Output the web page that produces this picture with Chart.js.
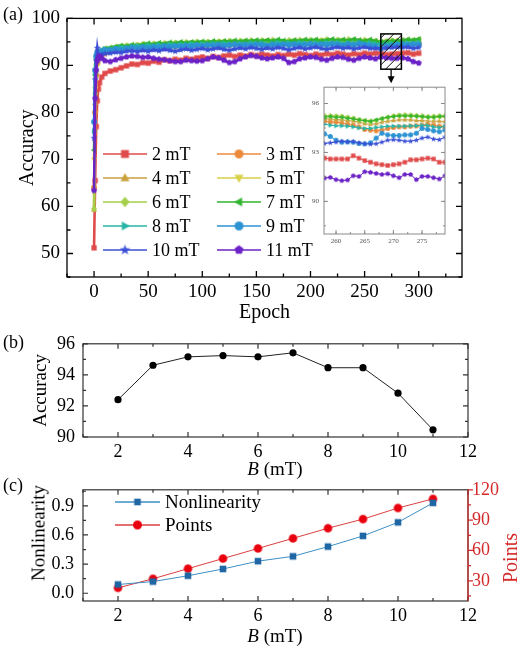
<!DOCTYPE html>
<html>
<head>
<meta charset="utf-8">
<script src="https://cdn.jsdelivr.net/npm/chart.js@4.4.1/dist/chart.umd.min.js"></script>
<style>
body { margin: 0; background: #fff; font-family: 'Liberation Serif', 'Times New Roman', serif; }
#wrap { position: relative; width: 520px; height: 649px; overflow: hidden; }
canvas { position: absolute; }
.t { position: absolute; font-size: 19px; line-height: 1; white-space: nowrap; color: #000; }
.ht { transform: translate(-50%, -50%); }
.vt { transform: translate(-50%, -50%) rotate(-90deg); }
</style>
</head>
<body>
<div id="wrap">
  <canvas id="chartA" width="520" height="325" style="left:0;top:0"></canvas>
  <canvas id="chartInset" width="150" height="175" style="left:300px;top:78px"></canvas>
  <canvas id="chartB" width="520" height="160" style="left:0;top:325px"></canvas>
  <canvas id="chartC" width="520" height="179" style="left:0;top:470px"></canvas>
  <div class="t" style="left:3px;top:5px;font-size:18px">(a)</div>
  <div class="t" style="left:3px;top:333px;font-size:18px">(b)</div>
  <div class="t" style="left:3px;top:476px;font-size:18px">(c)</div>
  <div class="t ht" style="left:275px;top:468px"><i>B</i> (mT)</div>
  <div class="t ht" style="left:275px;top:635px"><i>B</i> (mT)</div>
  <div class="t vt" style="left:38px;top:533px">Nonlinearity</div>
  <div class="t vt" style="left:510px;top:558px;color:#d42a2a;font-size:20px">Points</div>
</div>
<script>
// ---- data (a): accuracy vs epoch
var seriesLabels = ['2 mT', '3 mT', '4 mT', '5 mT', '6 mT', '7 mT', '8 mT', '9 mT', '10 mT', '11 mT'];

var epochs = [0, 1, 2, 3, 4, 5, 7, 10,
  15, 20, 25, 30, 35, 40, 45, 50, 55, 60,
  65, 70, 75, 80, 85, 90, 95, 100, 105, 110,
  115, 120, 125, 130, 135, 140, 145, 150, 155, 160,
  165, 170, 175, 180, 185, 190, 195, 200, 205, 210,
  215, 220, 225, 230, 235, 240, 245, 250, 255, 260,
  265, 270, 275, 280, 285, 290, 295, 300];

var acc2mT = [51.2, 65.5, 77.0, 82.5, 85.0, 86.3, 87.5, 88.3,
  88.8, 89.1, 89.5, 89.9, 90.3, 90.2, 90.6, 90.5, 90.9, 90.7,
  91.2, 91.0, 91.3, 91.1, 91.5, 91.3, 91.6, 91.8, 91.5, 91.9,
  91.7, 92.0, 92.2, 91.9, 92.2, 92.0, 92.3, 92.1, 92.4, 92.2,
  92.0, 92.3, 92.1, 92.4, 92.2, 92.5, 92.3, 92.1, 92.4, 92.2,
  92.5, 92.3, 92.6, 92.4, 92.2, 92.5, 92.3, 92.6, 92.4, 92.6,
  92.6, 92.3, 92.4, 92.5, 92.6, 92.7, 92.4, 92.6];
var acc3mT = [64.0, 80.0, 88.0, 90.5, 91.5, 92.0, 92.3, 92.6,
  93.0, 93.3, 93.5, 93.4, 93.7, 93.9, 93.7, 94.0, 93.8, 94.1,
  94.0, 94.2, 94.0, 94.3, 94.1, 94.3, 94.2, 94.4, 94.2, 94.5,
  94.3, 94.5, 94.3, 94.6, 94.4, 94.6, 94.4, 94.7, 94.5, 94.3,
  94.6, 94.4, 94.7, 94.5, 94.7, 94.4, 94.6, 94.8, 94.5, 94.7,
  94.5, 94.8, 94.6, 94.4, 94.7, 94.5, 94.7, 94.5, 94.7, 94.8,
  94.6, 94.4, 94.6, 94.6, 94.8, 94.5, 94.7, 94.6];
var acc4mT = [59.3, 82.0, 89.0, 91.0, 91.8, 92.3, 92.6, 93.0,
  93.4, 93.7, 93.9, 94.1, 93.9, 94.2, 94.4, 94.2, 94.5, 94.3,
  94.6, 94.4, 94.7, 94.5, 94.8, 94.6, 94.8, 94.7, 94.9, 94.7,
  95.0, 94.8, 95.0, 94.8, 95.1, 94.9, 95.1, 94.9, 95.2, 95.0,
  94.8, 95.1, 94.9, 95.2, 95.0, 95.2, 94.9, 95.1, 95.3, 95.0,
  95.2, 95.0, 95.3, 95.1, 94.9, 95.2, 95.0, 95.2, 95.0, 95.0,
  94.9, 94.9, 95.0, 94.9, 95.1, 95.0, 95.1, 95.0];
var acc5mT = [70.0, 85.0, 90.0, 91.5, 92.0, 92.5, 92.8, 93.2,
  93.6, 93.8, 94.1, 93.9, 94.2, 94.4, 94.2, 94.5, 94.3, 94.6,
  94.4, 94.7, 94.5, 94.8, 94.6, 94.9, 94.7, 94.9, 94.8, 95.0,
  94.8, 95.1, 94.9, 95.1, 95.0, 95.2, 95.0, 95.2, 95.0, 95.3,
  95.1, 94.9, 95.2, 95.0, 95.3, 95.1, 95.3, 95.0, 95.2, 95.4,
  95.1, 95.3, 95.1, 95.4, 95.2, 95.0, 95.3, 95.1, 95.3, 95.2,
  95.0, 95.1, 95.2, 95.2, 95.1, 95.3, 95.2, 95.4];
var acc6mT = [59.5, 84.0, 90.0, 91.8, 92.2, 92.6, 93.0, 93.4,
  93.5, 93.8, 94.0, 94.2, 94.0, 94.3, 94.5, 94.3, 94.6, 94.4,
  94.7, 94.5, 94.8, 94.6, 94.9, 94.7, 95.0, 94.8, 95.0, 94.9,
  95.1, 94.9, 95.2, 95.0, 95.2, 95.1, 95.3, 95.1, 95.3, 95.1,
  95.4, 95.2, 95.0, 95.3, 95.1, 95.4, 95.2, 95.4, 95.1, 95.3,
  95.5, 95.2, 95.4, 95.2, 95.5, 95.3, 95.1, 95.4, 95.2, 95.2,
  94.9, 95.1, 95.3, 95.2, 95.3, 95.4, 95.3, 95.5];
var acc7mT = [72.0, 88.0, 91.5, 92.5, 92.8, 93.0, 93.3, 93.6,
  93.8, 94.0, 94.2, 94.1, 94.4, 94.2, 94.5, 94.7, 94.5, 94.8,
  94.6, 94.9, 94.7, 95.0, 94.8, 95.0, 94.9, 95.1, 94.9, 95.2,
  95.0, 95.2, 95.1, 95.3, 95.1, 95.3, 95.2, 95.4, 95.2, 95.4,
  95.2, 95.5, 95.3, 95.1, 95.4, 95.2, 95.5, 95.3, 95.5, 95.2,
  95.4, 95.6, 95.3, 95.5, 95.3, 95.6, 95.4, 95.2, 95.5, 95.2,
  95.0, 95.1, 95.2, 95.2, 95.3, 95.5, 95.4, 95.6];
var acc8mT = [76.0, 88.5, 91.5, 92.5, 92.8, 93.0, 93.2, 93.5,
  93.5, 93.7, 93.9, 93.8, 94.0, 94.2, 94.0, 94.3, 94.1, 94.4,
  94.2, 94.5, 94.3, 94.5, 94.4, 94.6, 94.4, 94.6, 94.5, 94.7,
  94.5, 94.7, 94.6, 94.4, 94.7, 94.5, 94.8, 94.6, 94.8, 94.5,
  94.7, 94.9, 94.6, 94.8, 94.6, 94.9, 94.7, 94.5, 94.8, 94.6,
  94.9, 94.7, 94.9, 94.6, 94.8, 94.7, 94.9, 94.6, 94.8, 94.6,
  94.5, 94.6, 94.6, 94.6, 94.7, 94.8, 94.7, 94.9];
var acc9mT = [78.0, 89.0, 92.0, 92.8, 92.5, 92.8, 93.0, 93.3,
  93.2, 93.5, 93.3, 93.6, 93.8, 93.6, 93.9, 93.7, 94.0, 93.8,
  94.1, 93.9, 94.1, 94.0, 94.2, 94.0, 94.3, 94.1, 94.3, 94.2,
  94.4, 94.1, 94.3, 94.5, 94.2, 94.4, 94.2, 94.5, 94.3, 94.1,
  94.4, 94.2, 94.5, 94.3, 94.5, 94.2, 94.4, 94.6, 94.3, 94.5,
  94.3, 94.6, 94.4, 94.2, 94.5, 94.3, 94.6, 94.4, 94.2, 94.0,
  93.6, 94.0, 94.1, 94.4, 94.5, 94.3, 94.5, 94.4];
var acc10mT = [74.5, 87.0, 91.0, 93.7, 92.0, 91.8, 92.3, 92.5,
  92.6, 92.8, 92.7, 93.0, 93.1, 92.9, 93.2, 93.0, 93.3, 93.1,
  93.4, 93.2, 93.0, 93.3, 93.5, 93.2, 93.4, 93.6, 93.3, 93.5,
  93.7, 93.4, 93.2, 93.5, 93.7, 93.5, 93.8, 93.6, 93.4, 93.7,
  93.5, 93.8, 93.6, 93.3, 93.6, 93.8, 93.5, 93.7, 93.9, 93.6,
  93.4, 93.7, 93.9, 93.6, 93.8, 93.5, 93.7, 93.9, 93.6, 93.6,
  93.6, 93.7, 93.8, 93.9, 93.8, 93.9, 93.6, 93.8];
var acc11mT = [63.4, 83.0, 89.0, 91.0, 91.6, 92.0, 91.5, 91.0,
  90.8, 91.2, 91.5, 91.8, 92.0, 91.9, 91.7, 91.8, 91.5, 91.3,
  91.2, 91.0, 90.8, 90.8, 91.1, 91.0, 90.9, 91.0, 91.4, 91.8,
  91.6, 91.1, 90.6, 90.8, 91.4, 91.8, 92.1, 91.9, 91.6, 91.4,
  91.6, 91.8, 91.5, 90.6, 90.8, 91.4, 91.6, 91.8, 91.7, 91.3,
  91.1, 91.5, 91.8, 91.7, 91.3, 91.1, 91.5, 91.8, 91.6, 91.4,
  91.8, 91.6, 91.5, 91.5, 91.6, 91.4, 90.8, 90.5];

// inset: epochs 258-279
var insetEpochs = [258, 259, 260, 261, 262, 263, 264, 265, 266, 267, 268,
  269, 270, 271, 272, 273, 274, 275, 276, 277, 278, 279];
var zoom2mT = [92.65, 92.6, 92.6, 92.6, 92.6, 92.8, 92.65, 92.5, 92.4, 92.3, 92.25,
  92.2, 92.25, 92.3, 92.4, 92.55, 92.55, 92.6, 92.65, 92.6, 92.4, 92.4];
var zoom3mT = [94.92, 94.86, 94.86, 94.8, 94.73, 94.67, 94.57, 94.41, 94.37, 94.33, 94.37,
  94.47, 94.53, 94.57, 94.57, 94.61, 94.63, 94.67, 94.71, 94.67, 94.61, 94.57];
var zoom4mT = [95.06, 95.06, 95.02, 95.0, 94.96, 94.92, 94.86, 94.76, 94.73, 94.76, 94.86,
  94.92, 94.96, 95.0, 95.0, 95.0, 94.96, 94.96, 94.92, 94.92, 94.92, 94.9];
var zoom5mT = [95.2, 95.2, 95.2, 95.16, 95.12, 95.06, 95.0, 94.96, 94.92, 94.96, 95.06,
  95.12, 95.2, 95.24, 95.24, 95.22, 95.2, 95.16, 95.16, 95.12, 95.16, 95.16];
var zoom6mT = [95.25, 95.25, 95.24, 95.22, 95.16, 95.1, 95.0, 94.92, 94.86, 94.96, 95.06,
  95.16, 95.24, 95.29, 95.31, 95.29, 95.27, 95.24, 95.2, 95.22, 95.25, 95.25];
var zoom7mT = [95.16, 95.2, 95.16, 95.16, 95.1, 95.06, 95.0, 94.96, 94.92, 95.0, 95.08,
  95.16, 95.2, 95.24, 95.24, 95.24, 95.22, 95.2, 95.16, 95.16, 95.2, 95.22];
var zoom8mT = [94.73, 94.67, 94.63, 94.63, 94.61, 94.57, 94.51, 94.47, 94.47, 94.53, 94.57,
  94.61, 94.61, 94.61, 94.61, 94.63, 94.63, 94.67, 94.65, 94.57, 94.53, 94.61];
var zoom9mT = [94.14, 93.98, 93.75, 93.63, 93.65, 93.63, 93.55, 93.53, 93.59, 93.88, 94.18,
  94.08, 94.04, 94.04, 94.08, 94.08, 94.18, 94.47, 94.41, 94.33, 94.27, 94.37];
var zoom10mT = [93.55, 93.59, 93.63, 93.69, 93.65, 93.67, 93.59, 93.53, 93.51, 93.53, 93.63,
  93.75, 93.78, 93.75, 93.69, 93.69, 93.75, 93.88, 93.94, 93.82, 93.78, 93.94];
var zoom11mT = [91.43, 91.47, 91.33, 91.27, 91.31, 91.57, 91.53, 91.82, 91.78, 91.71, 91.65,
  91.69, 91.57, 91.45, 91.65, 91.65, 91.33, 91.53, 91.53, 91.45, 91.37, 91.57];

// (b) and (c)
var fieldB = [2, 3, 4, 5, 6, 7, 8, 9, 10, 11];
var bestAcc = [92.4, 94.62, 95.16, 95.24, 95.16, 95.42, 94.46, 94.46, 92.82, 90.46];
var nonlinearity = [0.09, 0.12, 0.18, 0.25, 0.33, 0.38, 0.48, 0.59, 0.73, 0.93];
var pointsCount = [23, 32, 42, 52, 62, 72, 82, 91, 102, 111];

// tick labels
var epochTicks = [0, 50, 100, 150, 200, 250, 300];
var accTicks = [50, 60, 70, 80, 90, 100];
var insetXTicks = [260, 265, 270, 275];
var insetYTicks = [90, 93, 96];
var fieldTicks = [2, 4, 6, 8, 10, 12];
var bAccTicks = [90, 92, 94, 96];
var nlTicks = [0, 0.3, 0.6, 0.9];
var ptTicks = [30, 60, 90, 120];

var mainSeries = [acc2mT, acc3mT, acc4mT, acc5mT, acc6mT, acc7mT, acc8mT, acc9mT, acc10mT, acc11mT];
var insetSeries = [zoom2mT, zoom3mT, zoom4mT, zoom5mT, zoom6mT, zoom7mT, zoom8mT, zoom9mT, zoom10mT, zoom11mT];

// ---- styles
var FONT = "'Liberation Serif', 'Times New Roman', serif";
var seriesColors = ['#e04a4a', '#ec8a3c', '#c9a23e', '#d9d148', '#a5cf4a', '#31b531', '#27b4a6', '#2d93d3', '#3b4fd6', '#6b22c7'];
var seriesShapes = ['square', 'circle', 'up', 'down', 'diamond', 'left', 'right', 'circle', 'star', 'pentagon'];
var zoomBox = { x0: 265, x1: 284, y0: 89.2, y1: 96.7, tip: 86.2 };

// small marker pictures used as pointStyle
function makeMarker(shape, color, size) {
  var c = document.createElement('canvas');
  c.width = c.height = Math.ceil(size + 4);
  var g = c.getContext('2d');
  var m = c.width / 2, r = size / 2;
  function poly(pts) {
    pts.forEach(function (p, k) {
      if (k) g.lineTo(m + p[0] * r, m + p[1] * r); else g.moveTo(m + p[0] * r, m + p[1] * r);
    });
    g.closePath();
  }
  g.fillStyle = color;
  g.beginPath();
  if (shape === 'circle') g.arc(m, m, r, 0, Math.PI * 2);
  else if (shape === 'square') g.rect(m - r * 0.88, m - r * 0.88, r * 1.76, r * 1.76);
  else if (shape === 'up') poly([[0, -1.1], [1, 0.7], [-1, 0.7]]);
  else if (shape === 'down') poly([[0, 1.1], [1, -0.7], [-1, -0.7]]);
  else if (shape === 'left') poly([[-1.1, 0], [0.7, -1], [0.7, 1]]);
  else if (shape === 'right') poly([[1.1, 0], [-0.7, -1], [-0.7, 1]]);
  else if (shape === 'diamond') poly([[0, -1.15], [1, 0], [0, 1.15], [-1, 0]]);
  else {
    var n = shape === 'star' ? 10 : 5, pts = [];
    for (var k = 0; k < n; k++) {
      var a = -Math.PI / 2 + k * 2 * Math.PI / n;
      var rr = shape === 'star' ? (k % 2 ? 0.5 : 1.25) : 1.05;
      pts.push([Math.cos(a) * rr, Math.sin(a) * rr]);
    }
    poly(pts);
  }
  g.fill();
  return c;
}

var mainMarkers = seriesShapes.map(function (s, i) { return makeMarker(s, seriesColors[i], 6); });
var insetMarkers = seriesShapes.map(function (s, i) { return makeMarker(s, seriesColors[i], 5); });
var keyMarkers = seriesShapes.map(function (s, i) { return makeMarker(s, seriesColors[i], 9); });
var cMarkers = [makeMarker('square', '#1f66a5', 7.5), makeMarker('circle', '#e8000e', 8.5)];
var cKeyMarkers = [makeMarker('square', '#1f66a5', 7.5), makeMarker('circle', '#e8000e', 9)];

// frame + inward ticks (Origin style)
function makeFrame(cfg) {
  return {
    id: 'frame',
    afterDraw: function (chart) {
      var ctx = chart.ctx, a = chart.chartArea;
      ctx.save();
      ctx.lineWidth = cfg.width;
      ctx.strokeStyle = cfg.color;
      ctx.strokeRect(a.left, a.top, a.right - a.left, a.bottom - a.top);
      cfg.axes.forEach(function (ax) {
        var s = chart.scales[ax.id];
        ctx.strokeStyle = ax.color || cfg.color;
        if (ax.spine) {
          ctx.beginPath(); ctx.moveTo(a.right, a.top); ctx.lineTo(a.right, a.bottom); ctx.stroke();
        }
        var list = s.ticks.map(function (t) { return [t.value, ax.major]; });
        if (ax.minor) {
          for (var k = Math.ceil(s.min / ax.minor - 1e-9); k * ax.minor <= s.max + 1e-9; k++) list.push([k * ax.minor, ax.minorLen]);
        }
        ctx.beginPath();
        list.forEach(function (it) {
          var p = s.getPixelForValue(it[0]), len = it[1];
          ax.sides.forEach(function (side) {
            if (side === 'bottom') { ctx.moveTo(p, a.bottom); ctx.lineTo(p, a.bottom - len); }
            if (side === 'top') { ctx.moveTo(p, a.top); ctx.lineTo(p, a.top + len); }
            if (side === 'left') { ctx.moveTo(a.left, p); ctx.lineTo(a.left + len, p); }
            if (side === 'right') { ctx.moveTo(a.right, p); ctx.lineTo(a.right - len, p); }
            if (side === 'rightOut') { ctx.moveTo(a.right, p); ctx.lineTo(a.right + len, p); }
          });
        });
        ctx.stroke();
      });
      ctx.restore();
    }
  };
}

// legend drawn inside the plot
function makeKey(markers, cfg) {
  return {
    id: 'key',
    afterDraw: function (chart) {
      var ctx = chart.ctx;
      ctx.save();
      ctx.font = cfg.font;
      ctx.textBaseline = 'middle';
      chart.data.datasets.forEach(function (ds, i) {
        var col = i % cfg.cols, row = Math.floor(i / cfg.cols);
        var x = cfg.x[col], y = cfg.y + row * cfg.dy;
        ctx.strokeStyle = ds.borderColor;
        ctx.lineWidth = cfg.lineWidth;
        ctx.beginPath(); ctx.moveTo(x, y); ctx.lineTo(x + cfg.len, y); ctx.stroke();
        var m = markers[i];
        ctx.drawImage(m, x + cfg.len / 2 - m.width / 2, y - m.height / 2);
        ctx.fillStyle = '#000';
        ctx.fillText(ds.label, x + cfg.len + cfg.gap, y + 1);
      });
      ctx.restore();
    }
  };
}

var boxPlugin = {
  id: 'zoombox',
  afterDatasetsDraw: function (chart) {
    var ctx = chart.ctx, x = chart.scales.x, y = chart.scales.y;
    var l = x.getPixelForValue(zoomBox.x0), r = x.getPixelForValue(zoomBox.x1);
    var t = y.getPixelForValue(zoomBox.y1), b = y.getPixelForValue(zoomBox.y0);
    var w = r - l;
    ctx.save();
    ctx.beginPath(); ctx.rect(l, t, w, b - t); ctx.clip();
    ctx.strokeStyle = '#111'; ctx.lineWidth = 1;
    for (var yy = t + 4; yy < b + w; yy += 9) {
      ctx.beginPath(); ctx.moveTo(l, yy); ctx.lineTo(r, yy - w); ctx.stroke();
    }
    ctx.restore();
    ctx.save();
    ctx.strokeStyle = '#000'; ctx.lineWidth = 1.5;
    ctx.strokeRect(l, t, w, b - t);
    var cx = (l + r) / 2, tip = y.getPixelForValue(zoomBox.tip);
    ctx.lineWidth = 1.3;
    ctx.beginPath(); ctx.moveTo(cx, b); ctx.lineTo(cx, tip - 5); ctx.stroke();
    ctx.fillStyle = '#000';
    ctx.beginPath(); ctx.moveTo(cx, tip); ctx.lineTo(cx - 3.5, tip - 7); ctx.lineTo(cx + 3.5, tip - 7); ctx.closePath(); ctx.fill();
    ctx.restore();
  }
};

function fixedTicks(list) {
  return function (s) { s.ticks = list.map(function (v) { return { value: v }; }); };
}
function tickFont(size) { return { family: FONT, size: size }; }

// ---- (a) main chart
new Chart(document.getElementById('chartA'), {
  type: 'line',
  data: {
    datasets: mainSeries.map(function (arr, i) {
      return {
        label: seriesLabels[i],
        data: epochs.map(function (e, k) { return { x: e, y: arr[k] }; }),
        borderColor: seriesColors[i],
        backgroundColor: seriesColors[i],
        borderWidth: 2.6,
        pointStyle: mainMarkers[i],
        pointRadius: 3,
        order: 10 - i,
        tension: 0
      };
    })
  },
  options: {
    responsive: false,
    animation: false,
    layout: { padding: { top: 14, right: 58, left: 0, bottom: 0 } },
    plugins: { legend: { display: false }, tooltip: { enabled: false } },
    scales: {
      x: {
        type: 'linear', min: -25, max: 340,
        grid: { display: false, drawTicks: false }, border: { display: false },
        afterBuildTicks: fixedTicks(epochTicks),
        afterFit: function (s) { s.height = 48; },
        ticks: { color: '#000', font: tickFont(19), padding: 4, maxRotation: 0, autoSkip: false },
        title: { display: true, text: 'Epoch', color: '#000', font: tickFont(20), padding: { top: 0, bottom: 0 } }
      },
      y: {
        type: 'linear', min: 45, max: 100,
        grid: { display: false, drawTicks: false }, border: { display: false },
        afterBuildTicks: fixedTicks(accTicks),
        afterFit: function (s) { s.width = 67; },
        ticks: { color: '#000', font: tickFont(19), padding: 7 },
        title: { display: true, text: 'Accuracy', color: '#000', font: tickFont(20), padding: { top: 16, bottom: 0 } }
      }
    }
  },
  plugins: [
    boxPlugin,
    makeFrame({ color: '#000', width: 1.3, axes: [
      { id: 'x', sides: ['bottom', 'top'], major: 6, minor: 25, minorLen: 3.5 },
      { id: 'y', sides: ['left', 'right'], major: 6, minor: 5, minorLen: 3.5 }
    ] }),
    makeKey(keyMarkers, { cols: 2, x: [103, 217], y: 154, dy: 24, len: 44, gap: 5, lineWidth: 1.6, font: '18px ' + FONT })
  ]
});

// ---- inset
new Chart(document.getElementById('chartInset'), {
  type: 'line',
  data: {
    datasets: insetSeries.map(function (arr, i) {
      return {
        label: seriesLabels[i],
        data: insetEpochs.map(function (e, k) { return { x: e, y: arr[k] }; }),
        borderColor: seriesColors[i],
        backgroundColor: seriesColors[i],
        borderWidth: 1,
        pointStyle: insetMarkers[i],
        pointRadius: 2.5,
        order: 10 - i
      };
    })
  },
  options: {
    responsive: false,
    animation: false,
    layout: { padding: { top: 5, right: 5, left: 0, bottom: 0 } },
    plugins: { legend: { display: false }, tooltip: { enabled: false } },
    scales: {
      x: {
        type: 'linear', min: 257.9, max: 279,
        grid: { display: false, drawTicks: false }, border: { display: false },
        afterBuildTicks: fixedTicks(insetXTicks),
        afterFit: function (s) { s.height = 19; },
        ticks: { color: '#555', font: tickFont(7), padding: 3, maxRotation: 0, autoSkip: false }
      },
      y: {
        type: 'linear', min: 88, max: 97,
        grid: { display: false, drawTicks: false }, border: { display: false },
        afterBuildTicks: fixedTicks(insetYTicks),
        afterFit: function (s) { s.width = 24; },
        ticks: { color: '#555', font: tickFont(7), padding: 5 }
      }
    }
  },
  plugins: [
    makeFrame({ color: '#8a8a8a', width: 1, axes: [
      { id: 'x', sides: ['bottom', 'top'], major: 4, minor: 2.5, minorLen: 2 },
      { id: 'y', sides: ['left', 'right'], major: 4, minor: 1.5, minorLen: 2 }
    ] })
  ]
});

// ---- (b)
new Chart(document.getElementById('chartB'), {
  type: 'line',
  data: {
    datasets: [{
      label: 'Accuracy',
      data: fieldB.map(function (b, k) { return { x: b, y: bestAcc[k] }; }),
      borderColor: '#222',
      backgroundColor: '#000',
      borderWidth: 1,
      pointStyle: 'circle',
      pointRadius: 3.6,
      pointBorderWidth: 0
    }]
  },
  options: {
    responsive: false,
    animation: false,
    layout: { padding: { top: 12, right: 52, left: 0, bottom: 0 } },
    plugins: { legend: { display: false }, tooltip: { enabled: false } },
    scales: {
      x: {
        type: 'linear', min: 1, max: 12,
        grid: { display: false, drawTicks: false }, border: { display: false },
        afterBuildTicks: fixedTicks(fieldTicks),
        afterFit: function (s) { s.height = 48; },
        ticks: { color: '#000', font: tickFont(18), padding: 4, maxRotation: 0, autoSkip: false }
      },
      y: {
        type: 'linear', min: 90, max: 96,
        grid: { display: false, drawTicks: false }, border: { display: false },
        afterBuildTicks: fixedTicks(bAccTicks),
        afterFit: function (s) { s.width = 83; },
        ticks: { color: '#000', font: tickFont(18), padding: 8 },
        title: { display: true, text: 'Accuracy', color: '#000', font: tickFont(19), padding: { top: 30, bottom: 0 } }
      }
    }
  },
  plugins: [
    makeFrame({ color: '#333', width: 1.2, axes: [
      { id: 'x', sides: ['bottom', 'top'], major: 5, minor: 1, minorLen: 3 },
      { id: 'y', sides: ['left', 'right'], major: 5, minor: 1, minorLen: 3 }
    ] })
  ]
});

// ---- (c)
new Chart(document.getElementById('chartC'), {
  type: 'line',
  data: {
    datasets: [{
      label: 'Nonlinearity',
      yAxisID: 'y',
      data: fieldB.map(function (b, k) { return { x: b, y: nonlinearity[k] }; }),
      borderColor: '#3d8fc4',
      backgroundColor: '#1f66a5',
      borderWidth: 1,
      pointStyle: cMarkers[0],
      pointRadius: 3
    }, {
      label: 'Points',
      yAxisID: 'y2',
      data: fieldB.map(function (b, k) { return { x: b, y: pointsCount[k] }; }),
      borderColor: '#d94040',
      backgroundColor: '#e8000e',
      borderWidth: 1,
      pointStyle: cMarkers[1],
      pointRadius: 3
    }]
  },
  options: {
    responsive: false,
    animation: false,
    layout: { padding: { top: 13, right: 0, left: 0, bottom: 0 } },
    plugins: { legend: { display: false }, tooltip: { enabled: false } },
    scales: {
      x: {
        type: 'linear', min: 1, max: 12,
        grid: { display: false, drawTicks: false }, border: { display: false },
        afterBuildTicks: fixedTicks(fieldTicks),
        afterFit: function (s) { s.height = 48; },
        ticks: { color: '#000', font: tickFont(18), padding: 4, maxRotation: 0, autoSkip: false }
      },
      y: {
        type: 'linear', position: 'left', min: -0.08, max: 1.065,
        grid: { display: false, drawTicks: false }, border: { display: false },
        afterBuildTicks: fixedTicks(nlTicks),
        afterFit: function (s) { s.width = 83; },
        ticks: { color: '#000', font: tickFont(18), padding: 9, callback: function (v) { return v.toFixed(1); } }
      },
      y2: {
        type: 'linear', position: 'right', min: 10, max: 120,
        grid: { display: false, drawTicks: false }, border: { display: false },
        afterBuildTicks: fixedTicks(ptTicks),
        afterFit: function (s) { s.width = 52; },
        ticks: { color: '#d42a2a', font: tickFont(18), padding: 4 }
      }
    }
  },
  plugins: [
    makeFrame({ color: '#333', width: 1.2, axes: [
      { id: 'x', sides: ['bottom', 'top'], major: 5, minor: 1, minorLen: 3 },
      { id: 'y', sides: ['left'], major: 5, minor: 0.15, minorLen: 3 },
      { id: 'y2', sides: ['rightOut'], major: 5, minor: 15, minorLen: 3, color: '#d42a2a', spine: true }
    ] }),
    makeKey(cKeyMarkers, { cols: 1, x: [115], y: 32, dy: 23, len: 45, gap: 5, lineWidth: 1.3, font: '19px ' + FONT })
  ]
});
</script>
</body>
</html>
